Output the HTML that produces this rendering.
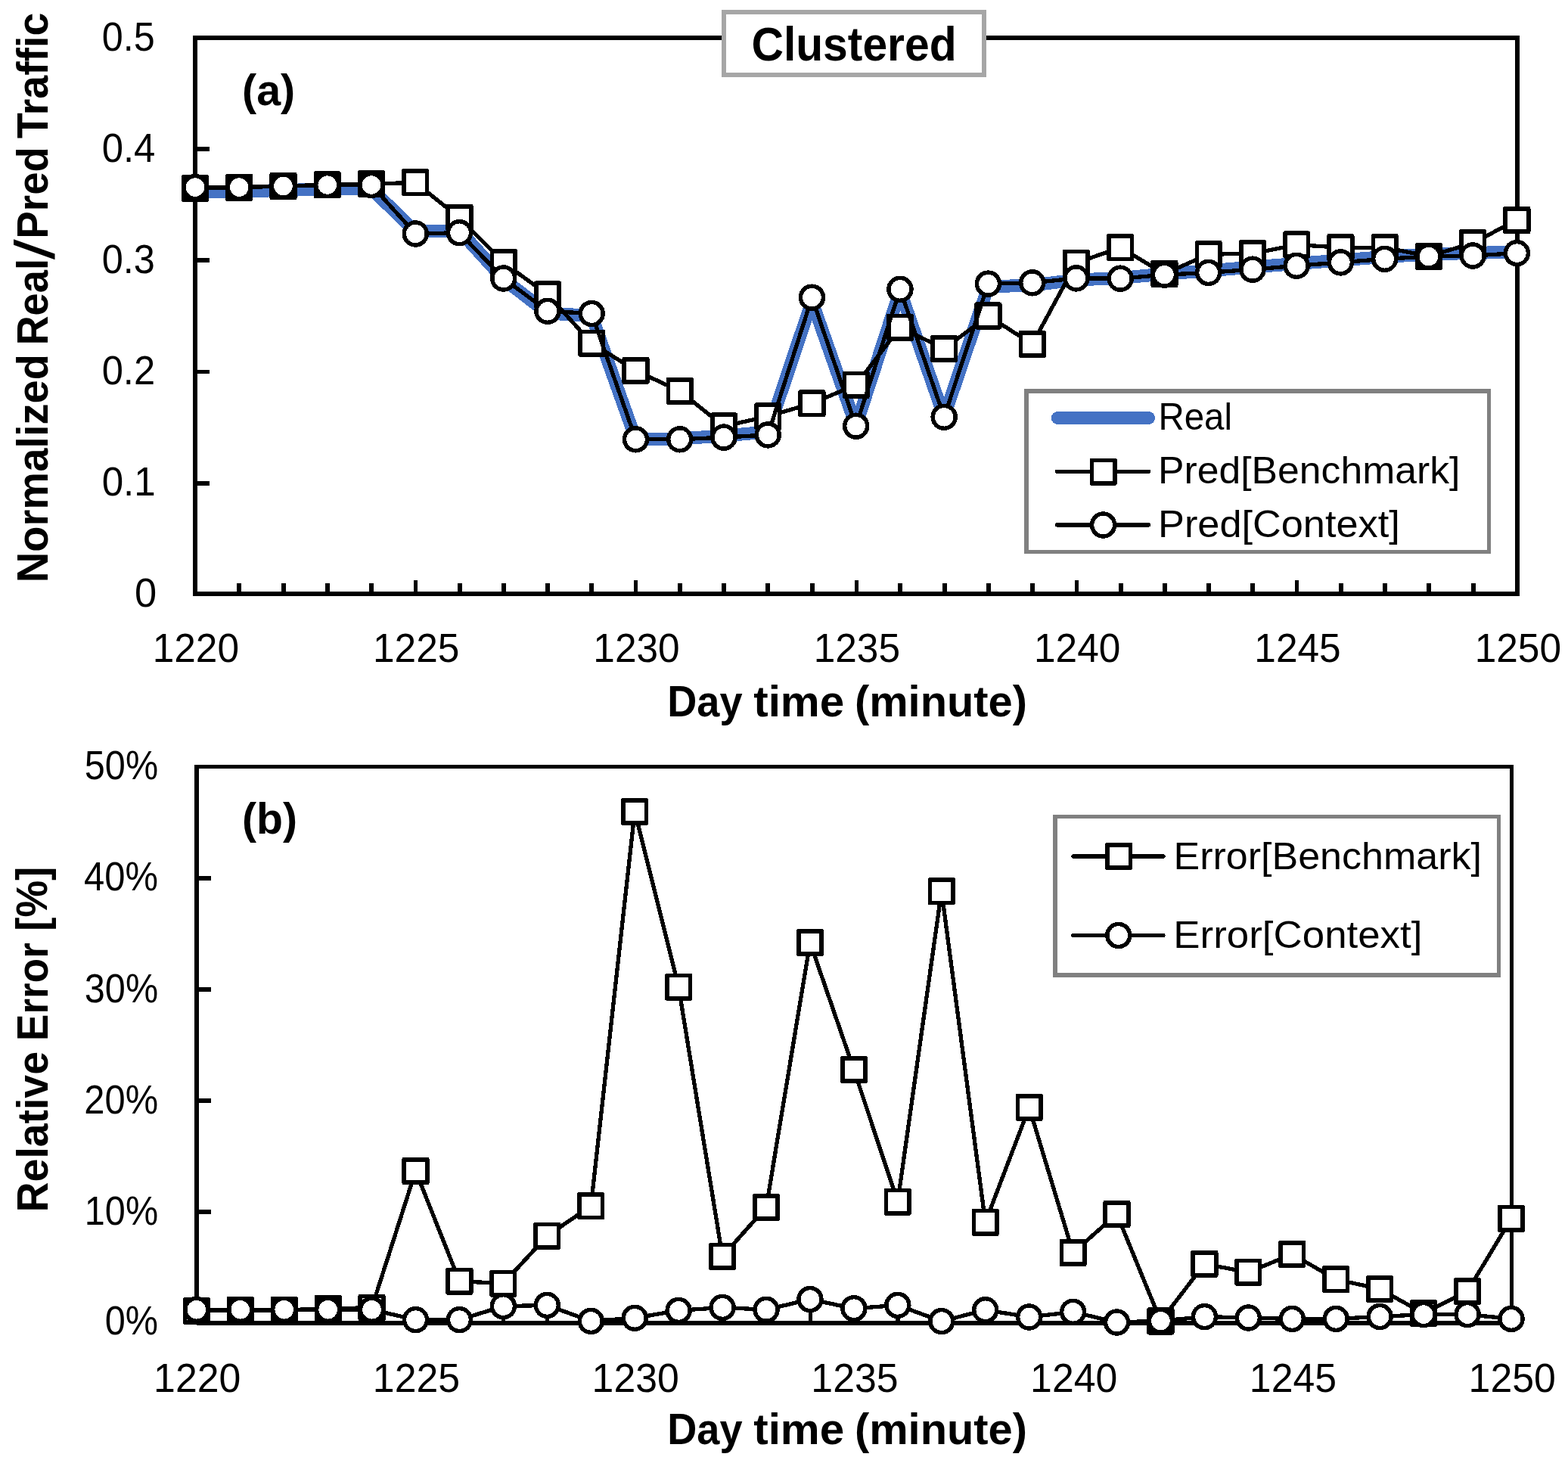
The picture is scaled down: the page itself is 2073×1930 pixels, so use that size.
<!DOCTYPE html>
<html lang="en">
<head>
<meta charset="utf-8">
<title>Clustered: real vs predicted traffic and relative error</title>
<style>
html,body{margin:0;padding:0;background:#fff;}
body{width:2073px;height:1930px;overflow:hidden;font-family:"Liberation Sans",sans-serif;}
svg{display:block;}
</style>
</head>
<body>
<svg width="2073" height="1930" viewBox="0 0 2073 1930" shape-rendering="crispEdges">
<rect width="2073" height="1930" fill="#fff"/>
<g id="plot-a">
<rect x="258.0" y="50.0" width="1748.0" height="735.0" fill="none" stroke="#000" stroke-width="6"/><line x1="258.0" y1="197" x2="277" y2="197" stroke="#000" stroke-width="6"/><line x1="258.0" y1="344" x2="277" y2="344" stroke="#000" stroke-width="6"/><line x1="258.0" y1="491.5" x2="277" y2="491.5" stroke="#000" stroke-width="5"/><line x1="258.0" y1="639" x2="277" y2="639" stroke="#000" stroke-width="6"/><line x1="316.27" y1="785.0" x2="316.27" y2="771" stroke="#000" stroke-width="6"/><line x1="374.53" y1="785.0" x2="374.53" y2="771" stroke="#000" stroke-width="6"/><line x1="432.8" y1="785.0" x2="432.8" y2="771" stroke="#000" stroke-width="6"/><line x1="491.07" y1="785.0" x2="491.07" y2="771" stroke="#000" stroke-width="6"/><line x1="549.63" y1="785.0" x2="549.63" y2="767" stroke="#000" stroke-width="5"/><line x1="607.6" y1="785.0" x2="607.6" y2="771" stroke="#000" stroke-width="6"/><line x1="665.87" y1="785.0" x2="665.87" y2="771" stroke="#000" stroke-width="6"/><line x1="724.13" y1="785.0" x2="724.13" y2="771" stroke="#000" stroke-width="6"/><line x1="782.4" y1="785.0" x2="782.4" y2="771" stroke="#000" stroke-width="6"/><line x1="840.97" y1="785.0" x2="840.97" y2="767" stroke="#000" stroke-width="5"/><line x1="898.93" y1="785.0" x2="898.93" y2="771" stroke="#000" stroke-width="6"/><line x1="957.2" y1="785.0" x2="957.2" y2="771" stroke="#000" stroke-width="6"/><line x1="1015.47" y1="785.0" x2="1015.47" y2="771" stroke="#000" stroke-width="6"/><line x1="1073.73" y1="785.0" x2="1073.73" y2="771" stroke="#000" stroke-width="6"/><line x1="1132.3" y1="785.0" x2="1132.3" y2="767" stroke="#000" stroke-width="5"/><line x1="1190.27" y1="785.0" x2="1190.27" y2="771" stroke="#000" stroke-width="6"/><line x1="1248.53" y1="785.0" x2="1248.53" y2="771" stroke="#000" stroke-width="6"/><line x1="1306.8" y1="785.0" x2="1306.8" y2="771" stroke="#000" stroke-width="6"/><line x1="1365.07" y1="785.0" x2="1365.07" y2="771" stroke="#000" stroke-width="6"/><line x1="1423.63" y1="785.0" x2="1423.63" y2="767" stroke="#000" stroke-width="5"/><line x1="1481.6" y1="785.0" x2="1481.6" y2="771" stroke="#000" stroke-width="6"/><line x1="1539.87" y1="785.0" x2="1539.87" y2="771" stroke="#000" stroke-width="6"/><line x1="1598.13" y1="785.0" x2="1598.13" y2="771" stroke="#000" stroke-width="6"/><line x1="1656.4" y1="785.0" x2="1656.4" y2="771" stroke="#000" stroke-width="6"/><line x1="1714.97" y1="785.0" x2="1714.97" y2="767" stroke="#000" stroke-width="5"/><line x1="1772.93" y1="785.0" x2="1772.93" y2="771" stroke="#000" stroke-width="6"/><line x1="1831.2" y1="785.0" x2="1831.2" y2="771" stroke="#000" stroke-width="6"/><line x1="1889.47" y1="785.0" x2="1889.47" y2="771" stroke="#000" stroke-width="6"/><line x1="1947.73" y1="785.0" x2="1947.73" y2="771" stroke="#000" stroke-width="6"/>
<polyline points="258,253 316.25,253 374.49,251.5 432.74,250 490.99,249.7 549.23,306 607.48,305 665.73,369 723.97,414 782.22,417.5 840.47,580.5 898.71,580 956.96,576 1015.21,571 1073.45,398 1131.7,563 1189.95,384 1248.19,551 1306.44,379 1364.69,377 1422.93,370 1481.18,367.5 1539.43,362 1597.67,358 1655.92,353 1714.17,348.5 1772.41,344 1830.66,339.5 1888.91,336 1947.15,334.5 2005.4,333" fill="none" stroke="#4472C4" stroke-width="17" stroke-linejoin="round" stroke-linecap="round" />
<polyline points="258,248.8 316.25,247.8 374.49,246 432.74,244.3 490.99,243.2 549.23,241.3 607.48,288 665.73,347.2 723.97,389.5 782.22,453.6 840.47,489.9 898.71,517 956.96,563.5 1015.21,550.4 1073.45,533.2 1131.7,508.8 1189.95,432.7 1248.19,461 1306.44,417.5 1364.69,454.9 1422.93,347.6 1481.18,327.2 1539.43,362 1597.67,336.2 1655.92,335.2 1714.17,323.5 1772.41,327.2 1830.66,327.2 1888.91,338.9 1947.15,321.2 2005.4,291" fill="none" stroke="#000" stroke-width="5.3" stroke-linejoin="round" stroke-linecap="round" />
<rect x="242.75" y="233.55" width="30.5" height="30.5" fill="#fff" stroke="#000" stroke-width="5.7" stroke-linejoin="round"/><rect x="301" y="232.55" width="30.5" height="30.5" fill="#fff" stroke="#000" stroke-width="5.7" stroke-linejoin="round"/><rect x="359.24" y="230.75" width="30.5" height="30.5" fill="#fff" stroke="#000" stroke-width="5.7" stroke-linejoin="round"/><rect x="417.49" y="229.05" width="30.5" height="30.5" fill="#fff" stroke="#000" stroke-width="5.7" stroke-linejoin="round"/><rect x="475.74" y="227.95" width="30.5" height="30.5" fill="#fff" stroke="#000" stroke-width="5.7" stroke-linejoin="round"/><rect x="533.98" y="226.05" width="30.5" height="30.5" fill="#fff" stroke="#000" stroke-width="5.7" stroke-linejoin="round"/><rect x="592.23" y="272.75" width="30.5" height="30.5" fill="#fff" stroke="#000" stroke-width="5.7" stroke-linejoin="round"/><rect x="650.48" y="331.95" width="30.5" height="30.5" fill="#fff" stroke="#000" stroke-width="5.7" stroke-linejoin="round"/><rect x="708.72" y="374.25" width="30.5" height="30.5" fill="#fff" stroke="#000" stroke-width="5.7" stroke-linejoin="round"/><rect x="766.97" y="438.35" width="30.5" height="30.5" fill="#fff" stroke="#000" stroke-width="5.7" stroke-linejoin="round"/><rect x="825.22" y="474.65" width="30.5" height="30.5" fill="#fff" stroke="#000" stroke-width="5.7" stroke-linejoin="round"/><rect x="883.46" y="501.75" width="30.5" height="30.5" fill="#fff" stroke="#000" stroke-width="5.7" stroke-linejoin="round"/><rect x="941.71" y="548.25" width="30.5" height="30.5" fill="#fff" stroke="#000" stroke-width="5.7" stroke-linejoin="round"/><rect x="999.96" y="535.15" width="30.5" height="30.5" fill="#fff" stroke="#000" stroke-width="5.7" stroke-linejoin="round"/><rect x="1058.2" y="517.95" width="30.5" height="30.5" fill="#fff" stroke="#000" stroke-width="5.7" stroke-linejoin="round"/><rect x="1116.45" y="493.55" width="30.5" height="30.5" fill="#fff" stroke="#000" stroke-width="5.7" stroke-linejoin="round"/><rect x="1174.7" y="417.45" width="30.5" height="30.5" fill="#fff" stroke="#000" stroke-width="5.7" stroke-linejoin="round"/><rect x="1232.94" y="445.75" width="30.5" height="30.5" fill="#fff" stroke="#000" stroke-width="5.7" stroke-linejoin="round"/><rect x="1291.19" y="402.25" width="30.5" height="30.5" fill="#fff" stroke="#000" stroke-width="5.7" stroke-linejoin="round"/><rect x="1349.44" y="439.65" width="30.5" height="30.5" fill="#fff" stroke="#000" stroke-width="5.7" stroke-linejoin="round"/><rect x="1407.68" y="332.35" width="30.5" height="30.5" fill="#fff" stroke="#000" stroke-width="5.7" stroke-linejoin="round"/><rect x="1465.93" y="311.95" width="30.5" height="30.5" fill="#fff" stroke="#000" stroke-width="5.7" stroke-linejoin="round"/><rect x="1524.18" y="346.75" width="30.5" height="30.5" fill="#fff" stroke="#000" stroke-width="5.7" stroke-linejoin="round"/><rect x="1582.42" y="320.95" width="30.5" height="30.5" fill="#fff" stroke="#000" stroke-width="5.7" stroke-linejoin="round"/><rect x="1640.67" y="319.95" width="30.5" height="30.5" fill="#fff" stroke="#000" stroke-width="5.7" stroke-linejoin="round"/><rect x="1698.92" y="308.25" width="30.5" height="30.5" fill="#fff" stroke="#000" stroke-width="5.7" stroke-linejoin="round"/><rect x="1757.16" y="311.95" width="30.5" height="30.5" fill="#fff" stroke="#000" stroke-width="5.7" stroke-linejoin="round"/><rect x="1815.41" y="311.95" width="30.5" height="30.5" fill="#fff" stroke="#000" stroke-width="5.7" stroke-linejoin="round"/><rect x="1873.66" y="323.65" width="30.5" height="30.5" fill="#fff" stroke="#000" stroke-width="5.7" stroke-linejoin="round"/><rect x="1931.9" y="305.95" width="30.5" height="30.5" fill="#fff" stroke="#000" stroke-width="5.7" stroke-linejoin="round"/><rect x="1990.15" y="275.75" width="30.5" height="30.5" fill="#fff" stroke="#000" stroke-width="5.7" stroke-linejoin="round"/>
<polyline points="258,247.6 316.25,247.6 374.49,246 432.74,244.6 490.99,244.6 549.23,309 607.48,307.7 665.73,368 723.97,411.3 782.22,414.5 840.47,580.8 898.71,580.8 956.96,578.1 1015.21,574.9 1073.45,393.2 1131.7,563.2 1189.95,382.3 1248.19,551.3 1306.44,375.1 1364.69,373.8 1422.93,367.9 1481.18,368.2 1539.43,363.2 1597.67,360.4 1655.92,356.2 1714.17,351.3 1772.41,346.9 1830.66,342.3 1888.91,339.1 1947.15,338 2005.4,334.6" fill="none" stroke="#000" stroke-width="5.3" stroke-linejoin="round" stroke-linecap="round" />
<circle cx="258" cy="247.6" r="15.0" fill="#fff" stroke="#000" stroke-width="5.5"/><circle cx="316.25" cy="247.6" r="15.0" fill="#fff" stroke="#000" stroke-width="5.5"/><circle cx="374.49" cy="246" r="15.0" fill="#fff" stroke="#000" stroke-width="5.5"/><circle cx="432.74" cy="244.6" r="15.0" fill="#fff" stroke="#000" stroke-width="5.5"/><circle cx="490.99" cy="244.6" r="15.0" fill="#fff" stroke="#000" stroke-width="5.5"/><circle cx="549.23" cy="309" r="15.0" fill="#fff" stroke="#000" stroke-width="5.5"/><circle cx="607.48" cy="307.7" r="15.0" fill="#fff" stroke="#000" stroke-width="5.5"/><circle cx="665.73" cy="368" r="15.0" fill="#fff" stroke="#000" stroke-width="5.5"/><circle cx="723.97" cy="411.3" r="15.0" fill="#fff" stroke="#000" stroke-width="5.5"/><circle cx="782.22" cy="414.5" r="15.0" fill="#fff" stroke="#000" stroke-width="5.5"/><circle cx="840.47" cy="580.8" r="15.0" fill="#fff" stroke="#000" stroke-width="5.5"/><circle cx="898.71" cy="580.8" r="15.0" fill="#fff" stroke="#000" stroke-width="5.5"/><circle cx="956.96" cy="578.1" r="15.0" fill="#fff" stroke="#000" stroke-width="5.5"/><circle cx="1015.21" cy="574.9" r="15.0" fill="#fff" stroke="#000" stroke-width="5.5"/><circle cx="1073.45" cy="393.2" r="15.0" fill="#fff" stroke="#000" stroke-width="5.5"/><circle cx="1131.7" cy="563.2" r="15.0" fill="#fff" stroke="#000" stroke-width="5.5"/><circle cx="1189.95" cy="382.3" r="15.0" fill="#fff" stroke="#000" stroke-width="5.5"/><circle cx="1248.19" cy="551.3" r="15.0" fill="#fff" stroke="#000" stroke-width="5.5"/><circle cx="1306.44" cy="375.1" r="15.0" fill="#fff" stroke="#000" stroke-width="5.5"/><circle cx="1364.69" cy="373.8" r="15.0" fill="#fff" stroke="#000" stroke-width="5.5"/><circle cx="1422.93" cy="367.9" r="15.0" fill="#fff" stroke="#000" stroke-width="5.5"/><circle cx="1481.18" cy="368.2" r="15.0" fill="#fff" stroke="#000" stroke-width="5.5"/><circle cx="1539.43" cy="363.2" r="15.0" fill="#fff" stroke="#000" stroke-width="5.5"/><circle cx="1597.67" cy="360.4" r="15.0" fill="#fff" stroke="#000" stroke-width="5.5"/><circle cx="1655.92" cy="356.2" r="15.0" fill="#fff" stroke="#000" stroke-width="5.5"/><circle cx="1714.17" cy="351.3" r="15.0" fill="#fff" stroke="#000" stroke-width="5.5"/><circle cx="1772.41" cy="346.9" r="15.0" fill="#fff" stroke="#000" stroke-width="5.5"/><circle cx="1830.66" cy="342.3" r="15.0" fill="#fff" stroke="#000" stroke-width="5.5"/><circle cx="1888.91" cy="339.1" r="15.0" fill="#fff" stroke="#000" stroke-width="5.5"/><circle cx="1947.15" cy="338" r="15.0" fill="#fff" stroke="#000" stroke-width="5.5"/><circle cx="2005.4" cy="334.6" r="15.0" fill="#fff" stroke="#000" stroke-width="5.5"/>
<rect x="1357" y="517" width="611.5" height="212.3" fill="#fff" stroke="#808080" stroke-width="5.5"/><line x1="1398.4" y1="552.5" x2="1518.5" y2="552.5" stroke="#4472C4" stroke-width="17" stroke-linecap="round"/><line x1="1397.5" y1="623.4" x2="1518.5" y2="623.4" stroke="#000" stroke-width="5.3" stroke-linecap="round"/><rect x="1443.35" y="608.35" width="30.5" height="30.5" fill="#fff" stroke="#000" stroke-width="5.7" stroke-linejoin="round"/><line x1="1397.5" y1="694" x2="1518.5" y2="694" stroke="#000" stroke-width="5.3" stroke-linecap="round"/><circle cx="1458.6" cy="694" r="15.0" fill="#fff" stroke="#000" stroke-width="5.5"/>
<rect x="957" y="16" width="344" height="83.2" fill="#fff" stroke="#A6A6A6" stroke-width="5.6"/>
</g>
<g id="plot-b">
<path d="M260.0,1013.5 H1998.5 V1749.0" fill="none" stroke="#000" stroke-width="5" stroke-linejoin="miter"/><line x1="260.0" y1="1011.0" x2="260.0" y2="1749.0" stroke="#000" stroke-width="6"/><line x1="260.0" y1="1749.0" x2="2001.0" y2="1749.0" stroke="#000" stroke-width="6"/><line x1="260.0" y1="1160.6" x2="279" y2="1160.6" stroke="#000" stroke-width="6"/><line x1="260.0" y1="1307.7" x2="279" y2="1307.7" stroke="#000" stroke-width="6"/><line x1="260.0" y1="1454.8" x2="279" y2="1454.8" stroke="#000" stroke-width="6"/><line x1="260.0" y1="1601.9" x2="279" y2="1601.9" stroke="#000" stroke-width="6"/><line x1="317.95" y1="1749.0" x2="317.95" y2="1735.0" stroke="#000" stroke-width="5.5"/><line x1="375.9" y1="1749.0" x2="375.9" y2="1735.0" stroke="#000" stroke-width="5.5"/><line x1="433.85" y1="1749.0" x2="433.85" y2="1735.0" stroke="#000" stroke-width="5.5"/><line x1="491.8" y1="1749.0" x2="491.8" y2="1735.0" stroke="#000" stroke-width="5.5"/><line x1="549.75" y1="1749.0" x2="549.75" y2="1731.0" stroke="#000" stroke-width="5.5"/><line x1="607.7" y1="1749.0" x2="607.7" y2="1735.0" stroke="#000" stroke-width="5.5"/><line x1="665.65" y1="1749.0" x2="665.65" y2="1735.0" stroke="#000" stroke-width="5.5"/><line x1="723.6" y1="1749.0" x2="723.6" y2="1735.0" stroke="#000" stroke-width="5.5"/><line x1="781.55" y1="1749.0" x2="781.55" y2="1735.0" stroke="#000" stroke-width="5.5"/><line x1="839.5" y1="1749.0" x2="839.5" y2="1731.0" stroke="#000" stroke-width="5.5"/><line x1="897.45" y1="1749.0" x2="897.45" y2="1735.0" stroke="#000" stroke-width="5.5"/><line x1="955.4" y1="1749.0" x2="955.4" y2="1735.0" stroke="#000" stroke-width="5.5"/><line x1="1013.35" y1="1749.0" x2="1013.35" y2="1735.0" stroke="#000" stroke-width="5.5"/><line x1="1071.3" y1="1749.0" x2="1071.3" y2="1735.0" stroke="#000" stroke-width="5.5"/><line x1="1129.25" y1="1749.0" x2="1129.25" y2="1731.0" stroke="#000" stroke-width="5.5"/><line x1="1187.2" y1="1749.0" x2="1187.2" y2="1735.0" stroke="#000" stroke-width="5.5"/><line x1="1245.15" y1="1749.0" x2="1245.15" y2="1735.0" stroke="#000" stroke-width="5.5"/><line x1="1303.1" y1="1749.0" x2="1303.1" y2="1735.0" stroke="#000" stroke-width="5.5"/><line x1="1361.05" y1="1749.0" x2="1361.05" y2="1735.0" stroke="#000" stroke-width="5.5"/><line x1="1419" y1="1749.0" x2="1419" y2="1731.0" stroke="#000" stroke-width="5.5"/><line x1="1476.95" y1="1749.0" x2="1476.95" y2="1735.0" stroke="#000" stroke-width="5.5"/><line x1="1534.9" y1="1749.0" x2="1534.9" y2="1735.0" stroke="#000" stroke-width="5.5"/><line x1="1592.85" y1="1749.0" x2="1592.85" y2="1735.0" stroke="#000" stroke-width="5.5"/><line x1="1650.8" y1="1749.0" x2="1650.8" y2="1735.0" stroke="#000" stroke-width="5.5"/><line x1="1708.75" y1="1749.0" x2="1708.75" y2="1731.0" stroke="#000" stroke-width="5.5"/><line x1="1766.7" y1="1749.0" x2="1766.7" y2="1735.0" stroke="#000" stroke-width="5.5"/><line x1="1824.65" y1="1749.0" x2="1824.65" y2="1735.0" stroke="#000" stroke-width="5.5"/><line x1="1882.6" y1="1749.0" x2="1882.6" y2="1735.0" stroke="#000" stroke-width="5.5"/><line x1="1940.55" y1="1749.0" x2="1940.55" y2="1735.0" stroke="#000" stroke-width="5.5"/>
<polyline points="259.8,1733 317.74,1731.9 375.68,1731.9 433.62,1729.9 491.56,1728.7 549.5,1547.9 607.44,1693.7 665.38,1696.6 723.32,1633.8 781.26,1594.2 839.2,1073 897.14,1304.6 955.08,1660.8 1013.02,1595.9 1070.96,1245.9 1128.9,1413.9 1186.84,1588.6 1244.78,1178.1 1302.72,1615.8 1360.66,1463.9 1418.6,1656 1476.54,1604.9 1534.48,1746.4 1592.42,1670.9 1650.36,1681.8 1708.3,1658 1766.24,1691.2 1824.18,1704 1882.12,1736.1 1940.06,1707 1998,1610.7" fill="none" stroke="#000" stroke-width="5.3" stroke-linejoin="round" stroke-linecap="round" />
<rect x="244.55" y="1717.75" width="30.5" height="30.5" fill="#fff" stroke="#000" stroke-width="5.7" stroke-linejoin="round"/><rect x="302.49" y="1716.65" width="30.5" height="30.5" fill="#fff" stroke="#000" stroke-width="5.7" stroke-linejoin="round"/><rect x="360.43" y="1716.65" width="30.5" height="30.5" fill="#fff" stroke="#000" stroke-width="5.7" stroke-linejoin="round"/><rect x="418.37" y="1714.65" width="30.5" height="30.5" fill="#fff" stroke="#000" stroke-width="5.7" stroke-linejoin="round"/><rect x="476.31" y="1713.45" width="30.5" height="30.5" fill="#fff" stroke="#000" stroke-width="5.7" stroke-linejoin="round"/><rect x="534.25" y="1532.65" width="30.5" height="30.5" fill="#fff" stroke="#000" stroke-width="5.7" stroke-linejoin="round"/><rect x="592.19" y="1678.45" width="30.5" height="30.5" fill="#fff" stroke="#000" stroke-width="5.7" stroke-linejoin="round"/><rect x="650.13" y="1681.35" width="30.5" height="30.5" fill="#fff" stroke="#000" stroke-width="5.7" stroke-linejoin="round"/><rect x="708.07" y="1618.55" width="30.5" height="30.5" fill="#fff" stroke="#000" stroke-width="5.7" stroke-linejoin="round"/><rect x="766.01" y="1578.95" width="30.5" height="30.5" fill="#fff" stroke="#000" stroke-width="5.7" stroke-linejoin="round"/><rect x="823.95" y="1057.75" width="30.5" height="30.5" fill="#fff" stroke="#000" stroke-width="5.7" stroke-linejoin="round"/><rect x="881.89" y="1289.35" width="30.5" height="30.5" fill="#fff" stroke="#000" stroke-width="5.7" stroke-linejoin="round"/><rect x="939.83" y="1645.55" width="30.5" height="30.5" fill="#fff" stroke="#000" stroke-width="5.7" stroke-linejoin="round"/><rect x="997.77" y="1580.65" width="30.5" height="30.5" fill="#fff" stroke="#000" stroke-width="5.7" stroke-linejoin="round"/><rect x="1055.71" y="1230.65" width="30.5" height="30.5" fill="#fff" stroke="#000" stroke-width="5.7" stroke-linejoin="round"/><rect x="1113.65" y="1398.65" width="30.5" height="30.5" fill="#fff" stroke="#000" stroke-width="5.7" stroke-linejoin="round"/><rect x="1171.59" y="1573.35" width="30.5" height="30.5" fill="#fff" stroke="#000" stroke-width="5.7" stroke-linejoin="round"/><rect x="1229.53" y="1162.85" width="30.5" height="30.5" fill="#fff" stroke="#000" stroke-width="5.7" stroke-linejoin="round"/><rect x="1287.47" y="1600.55" width="30.5" height="30.5" fill="#fff" stroke="#000" stroke-width="5.7" stroke-linejoin="round"/><rect x="1345.41" y="1448.65" width="30.5" height="30.5" fill="#fff" stroke="#000" stroke-width="5.7" stroke-linejoin="round"/><rect x="1403.35" y="1640.75" width="30.5" height="30.5" fill="#fff" stroke="#000" stroke-width="5.7" stroke-linejoin="round"/><rect x="1461.29" y="1589.65" width="30.5" height="30.5" fill="#fff" stroke="#000" stroke-width="5.7" stroke-linejoin="round"/><rect x="1519.23" y="1731.15" width="30.5" height="30.5" fill="#fff" stroke="#000" stroke-width="5.7" stroke-linejoin="round"/><rect x="1577.17" y="1655.65" width="30.5" height="30.5" fill="#fff" stroke="#000" stroke-width="5.7" stroke-linejoin="round"/><rect x="1635.11" y="1666.55" width="30.5" height="30.5" fill="#fff" stroke="#000" stroke-width="5.7" stroke-linejoin="round"/><rect x="1693.05" y="1642.75" width="30.5" height="30.5" fill="#fff" stroke="#000" stroke-width="5.7" stroke-linejoin="round"/><rect x="1750.99" y="1675.95" width="30.5" height="30.5" fill="#fff" stroke="#000" stroke-width="5.7" stroke-linejoin="round"/><rect x="1808.93" y="1688.75" width="30.5" height="30.5" fill="#fff" stroke="#000" stroke-width="5.7" stroke-linejoin="round"/><rect x="1866.87" y="1720.85" width="30.5" height="30.5" fill="#fff" stroke="#000" stroke-width="5.7" stroke-linejoin="round"/><rect x="1924.81" y="1691.75" width="30.5" height="30.5" fill="#fff" stroke="#000" stroke-width="5.7" stroke-linejoin="round"/><rect x="1982.75" y="1595.45" width="30.5" height="30.5" fill="#fff" stroke="#000" stroke-width="5.7" stroke-linejoin="round"/>
<polyline points="259.8,1731.3 317.74,1731.3 375.68,1731.3 433.62,1731.3 491.56,1731.3 549.5,1744.6 607.44,1744.6 665.38,1726.7 723.32,1725.4 781.26,1746.4 839.2,1742.3 897.14,1732.4 955.08,1728.4 1013.02,1731.3 1070.96,1717.6 1128.9,1729.7 1186.84,1725.4 1244.78,1746.6 1302.72,1731.7 1360.66,1741 1418.6,1734.3 1476.54,1748 1534.48,1746.2 1592.42,1740.6 1650.36,1742 1708.3,1743.4 1766.24,1743.4 1824.18,1740.5 1882.12,1737.6 1940.06,1737.6 1998,1743.4" fill="none" stroke="#000" stroke-width="5.3" stroke-linejoin="round" stroke-linecap="round" />
<circle cx="259.8" cy="1731.3" r="15.0" fill="#fff" stroke="#000" stroke-width="5.5"/><circle cx="317.74" cy="1731.3" r="15.0" fill="#fff" stroke="#000" stroke-width="5.5"/><circle cx="375.68" cy="1731.3" r="15.0" fill="#fff" stroke="#000" stroke-width="5.5"/><circle cx="433.62" cy="1731.3" r="15.0" fill="#fff" stroke="#000" stroke-width="5.5"/><circle cx="491.56" cy="1731.3" r="15.0" fill="#fff" stroke="#000" stroke-width="5.5"/><circle cx="549.5" cy="1744.6" r="15.0" fill="#fff" stroke="#000" stroke-width="5.5"/><circle cx="607.44" cy="1744.6" r="15.0" fill="#fff" stroke="#000" stroke-width="5.5"/><circle cx="665.38" cy="1726.7" r="15.0" fill="#fff" stroke="#000" stroke-width="5.5"/><circle cx="723.32" cy="1725.4" r="15.0" fill="#fff" stroke="#000" stroke-width="5.5"/><circle cx="781.26" cy="1746.4" r="15.0" fill="#fff" stroke="#000" stroke-width="5.5"/><circle cx="839.2" cy="1742.3" r="15.0" fill="#fff" stroke="#000" stroke-width="5.5"/><circle cx="897.14" cy="1732.4" r="15.0" fill="#fff" stroke="#000" stroke-width="5.5"/><circle cx="955.08" cy="1728.4" r="15.0" fill="#fff" stroke="#000" stroke-width="5.5"/><circle cx="1013.02" cy="1731.3" r="15.0" fill="#fff" stroke="#000" stroke-width="5.5"/><circle cx="1070.96" cy="1717.6" r="15.0" fill="#fff" stroke="#000" stroke-width="5.5"/><circle cx="1128.9" cy="1729.7" r="15.0" fill="#fff" stroke="#000" stroke-width="5.5"/><circle cx="1186.84" cy="1725.4" r="15.0" fill="#fff" stroke="#000" stroke-width="5.5"/><circle cx="1244.78" cy="1746.6" r="15.0" fill="#fff" stroke="#000" stroke-width="5.5"/><circle cx="1302.72" cy="1731.7" r="15.0" fill="#fff" stroke="#000" stroke-width="5.5"/><circle cx="1360.66" cy="1741" r="15.0" fill="#fff" stroke="#000" stroke-width="5.5"/><circle cx="1418.6" cy="1734.3" r="15.0" fill="#fff" stroke="#000" stroke-width="5.5"/><circle cx="1476.54" cy="1748" r="15.0" fill="#fff" stroke="#000" stroke-width="5.5"/><circle cx="1534.48" cy="1746.2" r="15.0" fill="#fff" stroke="#000" stroke-width="5.5"/><circle cx="1592.42" cy="1740.6" r="15.0" fill="#fff" stroke="#000" stroke-width="5.5"/><circle cx="1650.36" cy="1742" r="15.0" fill="#fff" stroke="#000" stroke-width="5.5"/><circle cx="1708.3" cy="1743.4" r="15.0" fill="#fff" stroke="#000" stroke-width="5.5"/><circle cx="1766.24" cy="1743.4" r="15.0" fill="#fff" stroke="#000" stroke-width="5.5"/><circle cx="1824.18" cy="1740.5" r="15.0" fill="#fff" stroke="#000" stroke-width="5.5"/><circle cx="1882.12" cy="1737.6" r="15.0" fill="#fff" stroke="#000" stroke-width="5.5"/><circle cx="1940.06" cy="1737.6" r="15.0" fill="#fff" stroke="#000" stroke-width="5.5"/><circle cx="1998" cy="1743.4" r="15.0" fill="#fff" stroke="#000" stroke-width="5.5"/>
<rect x="1395" y="1079.7" width="586.6" height="209.2" fill="#fff" stroke="#808080" stroke-width="5.3"/><line x1="1419" y1="1132" x2="1538" y2="1132" stroke="#000" stroke-width="5.3" stroke-linecap="round"/><rect x="1464.05" y="1116.75" width="30.5" height="30.5" fill="#fff" stroke="#000" stroke-width="5.7" stroke-linejoin="round"/><line x1="1419" y1="1236.5" x2="1538" y2="1236.5" stroke="#000" stroke-width="5.3" stroke-linecap="round"/><circle cx="1478.8" cy="1236.5" r="15.0" fill="#fff" stroke="#000" stroke-width="5.5"/>
</g>
<g id="labels" font-family="'Liberation Sans', sans-serif" fill="#000" xml:space="preserve">
<text x="134.69" y="66.7" font-size="54" font-weight="normal" textLength="69.93" lengthAdjust="spacingAndGlyphs">0.5</text>
<text x="134.67" y="213.7" font-size="54" font-weight="normal" textLength="70.67" lengthAdjust="spacingAndGlyphs">0.4</text>
<text x="134.68" y="360.7" font-size="54" font-weight="normal" textLength="70.2" lengthAdjust="spacingAndGlyphs">0.3</text>
<text x="134.67" y="507.7" font-size="54" font-weight="normal" textLength="70.47" lengthAdjust="spacingAndGlyphs">0.2</text>
<text x="134.65" y="654.7" font-size="54" font-weight="normal" textLength="71.11" lengthAdjust="spacingAndGlyphs">0.1</text>
<text x="177.9" y="802.2" font-size="54" font-weight="normal" textLength="29.16" lengthAdjust="spacingAndGlyphs">0</text>
<text x="201.64" y="875.3" font-size="54" font-weight="normal" textLength="114.39" lengthAdjust="spacingAndGlyphs">1220</text>
<text x="492.98" y="875.3" font-size="54" font-weight="normal" textLength="114.39" lengthAdjust="spacingAndGlyphs">1225</text>
<text x="784.31" y="875.3" font-size="54" font-weight="normal" textLength="114.39" lengthAdjust="spacingAndGlyphs">1230</text>
<text x="1075.64" y="875.3" font-size="54" font-weight="normal" textLength="114.39" lengthAdjust="spacingAndGlyphs">1235</text>
<text x="1366.98" y="875.3" font-size="54" font-weight="normal" textLength="114.39" lengthAdjust="spacingAndGlyphs">1240</text>
<text x="1658.31" y="875.3" font-size="54" font-weight="normal" textLength="114.39" lengthAdjust="spacingAndGlyphs">1245</text>
<text x="1949.64" y="875.3" font-size="54" font-weight="normal" textLength="114.39" lengthAdjust="spacingAndGlyphs">1250</text>
<text x="111.86" y="1030.3" font-size="54" font-weight="normal" textLength="97.21" lengthAdjust="spacingAndGlyphs">50%</text>
<text x="111.08" y="1177.4" font-size="54" font-weight="normal" textLength="98.01" lengthAdjust="spacingAndGlyphs">40%</text>
<text x="111.86" y="1324.5" font-size="54" font-weight="normal" textLength="97.21" lengthAdjust="spacingAndGlyphs">30%</text>
<text x="111.36" y="1471.6" font-size="54" font-weight="normal" textLength="97.72" lengthAdjust="spacingAndGlyphs">20%</text>
<text x="111.86" y="1618.7" font-size="54" font-weight="normal" textLength="97.21" lengthAdjust="spacingAndGlyphs">10%</text>
<text x="138.76" y="1764.2" font-size="54" font-weight="normal" textLength="70.26" lengthAdjust="spacingAndGlyphs">0%</text>
<text x="203.11" y="1839.8" font-size="54" font-weight="normal" textLength="115.24" lengthAdjust="spacingAndGlyphs">1220</text>
<text x="492.86" y="1839.8" font-size="54" font-weight="normal" textLength="115.24" lengthAdjust="spacingAndGlyphs">1225</text>
<text x="782.61" y="1839.8" font-size="54" font-weight="normal" textLength="115.24" lengthAdjust="spacingAndGlyphs">1230</text>
<text x="1072.36" y="1839.8" font-size="54" font-weight="normal" textLength="115.24" lengthAdjust="spacingAndGlyphs">1235</text>
<text x="1362.11" y="1839.8" font-size="54" font-weight="normal" textLength="115.24" lengthAdjust="spacingAndGlyphs">1240</text>
<text x="1651.86" y="1839.8" font-size="54" font-weight="normal" textLength="115.24" lengthAdjust="spacingAndGlyphs">1245</text>
<text x="1941.61" y="1839.8" font-size="54" font-weight="normal" textLength="115.24" lengthAdjust="spacingAndGlyphs">1250</text>
<text x="882.28" y="947" font-size="57.5" font-weight="bold" textLength="99.26" lengthAdjust="spacingAndGlyphs">Day</text>
<text x="996.22" y="947" font-size="57.5" font-weight="bold" textLength="119.99" lengthAdjust="spacingAndGlyphs">time</text>
<text x="1129.91" y="947" font-size="57.5" font-weight="bold" textLength="228.12" lengthAdjust="spacingAndGlyphs">(minute)</text>
<text x="882.28" y="1908.6" font-size="57.5" font-weight="bold" textLength="99.26" lengthAdjust="spacingAndGlyphs">Day</text>
<text x="996.22" y="1908.6" font-size="57.5" font-weight="bold" textLength="119.99" lengthAdjust="spacingAndGlyphs">time</text>
<text x="1129.91" y="1908.6" font-size="57.5" font-weight="bold" textLength="228.12" lengthAdjust="spacingAndGlyphs">(minute)</text>
<text transform="translate(63,766.5) rotate(-90)" x="-3.64" y="0" font-size="57.5" font-weight="bold" textLength="301.99" lengthAdjust="spacingAndGlyphs">Normalized</text>
<text transform="translate(63,453.1) rotate(-90)" x="-3.53" y="0" font-size="57.5" font-weight="bold" textLength="114.65" lengthAdjust="spacingAndGlyphs">Real</text>
<text transform="translate(71.6,343.3) rotate(-90)" x="-0" y="0" font-size="75" font-weight="normal" textLength="27.08" lengthAdjust="spacingAndGlyphs">/</text>
<text transform="translate(63,312.1) rotate(-90)" x="-3.56" y="0" font-size="57.5" font-weight="bold" textLength="121.69" lengthAdjust="spacingAndGlyphs">Pred</text>
<text transform="translate(63,182.5) rotate(-90)" x="-0.55" y="0" font-size="57.5" font-weight="bold" textLength="166.37" lengthAdjust="spacingAndGlyphs">Traffic</text>
<text transform="translate(63,1598.8) rotate(-90)" x="-3.6" y="0" font-size="57.5" font-weight="bold" textLength="212.36" lengthAdjust="spacingAndGlyphs">Relative</text>
<text transform="translate(63,1372.6) rotate(-90)" x="-3.45" y="0" font-size="57.5" font-weight="bold" textLength="129.87" lengthAdjust="spacingAndGlyphs">Error</text>
<text transform="translate(62,1227.8) rotate(-90)" x="-3.01" y="0" font-size="57.5" font-weight="bold" textLength="85.13" lengthAdjust="spacingAndGlyphs">[%]</text>
<text x="320.03" y="139" font-size="57.5" font-weight="bold" textLength="70.17" lengthAdjust="spacingAndGlyphs">(a)</text>
<text x="320.04" y="1101.9" font-size="57.5" font-weight="bold" textLength="73.03" lengthAdjust="spacingAndGlyphs">(b)</text>
<text x="993.45" y="79.9" font-size="63.5" font-weight="bold" textLength="271.11" lengthAdjust="spacingAndGlyphs">Clustered</text>
<text x="1531.41" y="568.4" font-size="50.3" font-weight="normal" textLength="97.56" lengthAdjust="spacingAndGlyphs">Real</text>
<text x="1531.06" y="639.1" font-size="50.3" font-weight="normal" textLength="399.39" lengthAdjust="spacingAndGlyphs">Pred[Benchmark]</text>
<text x="1531.02" y="710" font-size="50.3" font-weight="normal" textLength="319.71" lengthAdjust="spacingAndGlyphs">Pred[Context]</text>
<text x="1551.44" y="1148.9" font-size="50.3" font-weight="normal" textLength="407.63" lengthAdjust="spacingAndGlyphs">Error[Benchmark]</text>
<text x="1551.37" y="1252.7" font-size="50.3" font-weight="normal" textLength="329.09" lengthAdjust="spacingAndGlyphs">Error[Context]</text>
</g>
</svg>
</body>
</html>
